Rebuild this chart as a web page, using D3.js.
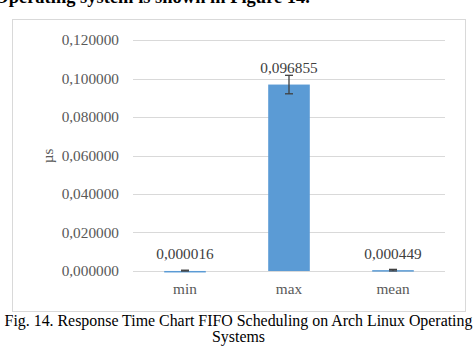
<!DOCTYPE html>
<html><head><meta charset="utf-8">
<script src="https://cdn.jsdelivr.net/npm/d3@7"></script>
<style>
html,body{margin:0;padding:0;background:#fff;}
svg{display:block;}
</style></head>
<body>
<script>
const categories = ["min", "max", "mean"];
const values = [0.000016, 0.096855, 0.000449];
const errors = [0.0004, 0.0048, 0.0004];
const yTicks = [0, 0.02, 0.04, 0.06, 0.08, 0.10, 0.12];
const yLabel = "µs";
const captionLines = ["Fig. 14. Response Time Chart FIFO Scheduling on Arch Linux Operating", "Systems"];
const bodyText = "Operating system is shown in Figure 14.";

const W = 474, H = 358;
const svg = d3.select("body").append("svg").attr("width", W).attr("height", H);

// clipped body text above the figure (cut off at the top, as in the reference)
svg.append("text").attr("x", 310).attr("y", 3).attr("text-anchor", "end")
  .attr("font-family", "Liberation Serif").attr("font-size", 18.5).attr("font-weight", "bold")
  .attr("fill", "#000").text(bodyText);

// chart frame
svg.append("rect").attr("x", 12.5).attr("y", 19.5).attr("width", 453).attr("height", 292)
  .attr("fill", "#fff").attr("stroke", "#d9d9d9").attr("stroke-width", 1);

const x = d3.scaleBand().domain(categories).range([133, 445]).paddingInner(0.6).paddingOuter(0.3);
const y = d3.scaleLinear().domain([0, 0.12]).range([271, 40]);

const fmt = v => d3.format(".6f")(v).replace(".", ",");

// gridlines
svg.append("g").selectAll("line").data(yTicks).join("line")
  .attr("x1", 133).attr("x2", 445)
  .attr("y1", d => Math.round(y(d)) + 0.5).attr("y2", d => Math.round(y(d)) + 0.5)
  .attr("stroke", "#d9d9d9").attr("stroke-width", 1);

// y axis labels
const yAxis = d3.axisLeft(y).tickValues(yTicks).tickFormat(fmt).tickSize(0).tickPadding(0);
const ya = svg.append("g").attr("transform", "translate(119,0)").call(yAxis);
ya.select(".domain").remove();
ya.selectAll("text").attr("font-family", "Liberation Serif").attr("font-size", 15.3).attr("fill", "#595959");

// y axis title
svg.append("text").attr("transform", "translate(53,156) rotate(-90)")
  .attr("text-anchor", "middle").attr("font-family", "Liberation Serif").attr("font-size", 15)
  .attr("fill", "#595959").text(yLabel);

// bars
svg.append("g").selectAll("rect").data(values).join("rect")
  .attr("x", (d, i) => x(categories[i]))
  .attr("y", d => y(d))
  .attr("width", x.bandwidth())
  .attr("height", d => Math.max(1.5, y(0) - y(d)))
  .attr("fill", "#5b9bd5");

// error bars
const eb = svg.append("g").attr("stroke", "#404040").attr("stroke-width", 1.3);
values.forEach((v, i) => {
  const cx = x(categories[i]) + x.bandwidth() / 2;
  const y1 = y(v + errors[i]), y2 = y(Math.max(0, v - errors[i]));
  eb.append("line").attr("x1", cx).attr("x2", cx).attr("y1", y1).attr("y2", y2);
  eb.append("line").attr("x1", cx - 4).attr("x2", cx + 4).attr("y1", y1).attr("y2", y1);
  eb.append("line").attr("x1", cx - 4).attr("x2", cx + 4).attr("y1", y2).attr("y2", y2);
});

// value labels
svg.append("g").selectAll("text").data(values).join("text")
  .attr("x", (d, i) => x(categories[i]) + x.bandwidth() / 2)
  .attr("y", d => y(d) - 11.5)
  .attr("text-anchor", "middle").attr("font-family", "Liberation Serif").attr("font-size", 15.3)
  .attr("fill", "#404040").text(d => fmt(d));

// category labels
const xAxis = d3.axisBottom(x).tickSize(0).tickPadding(0);
const xa = svg.append("g").attr("transform", "translate(0,283)").call(xAxis);
xa.select(".domain").remove();
xa.selectAll("text").attr("font-family", "Liberation Serif").attr("font-size", 15.3).attr("fill", "#595959");

// caption
svg.append("g").selectAll("text").data(captionLines).join("text")
  .attr("x", 238.5).attr("y", (d, i) => 326 + i * 16)
  .attr("text-anchor", "middle").attr("font-family", "Liberation Serif").attr("font-size", 15.9)
  .attr("fill", "#000").text(d => d);
</script>
</body></html>
